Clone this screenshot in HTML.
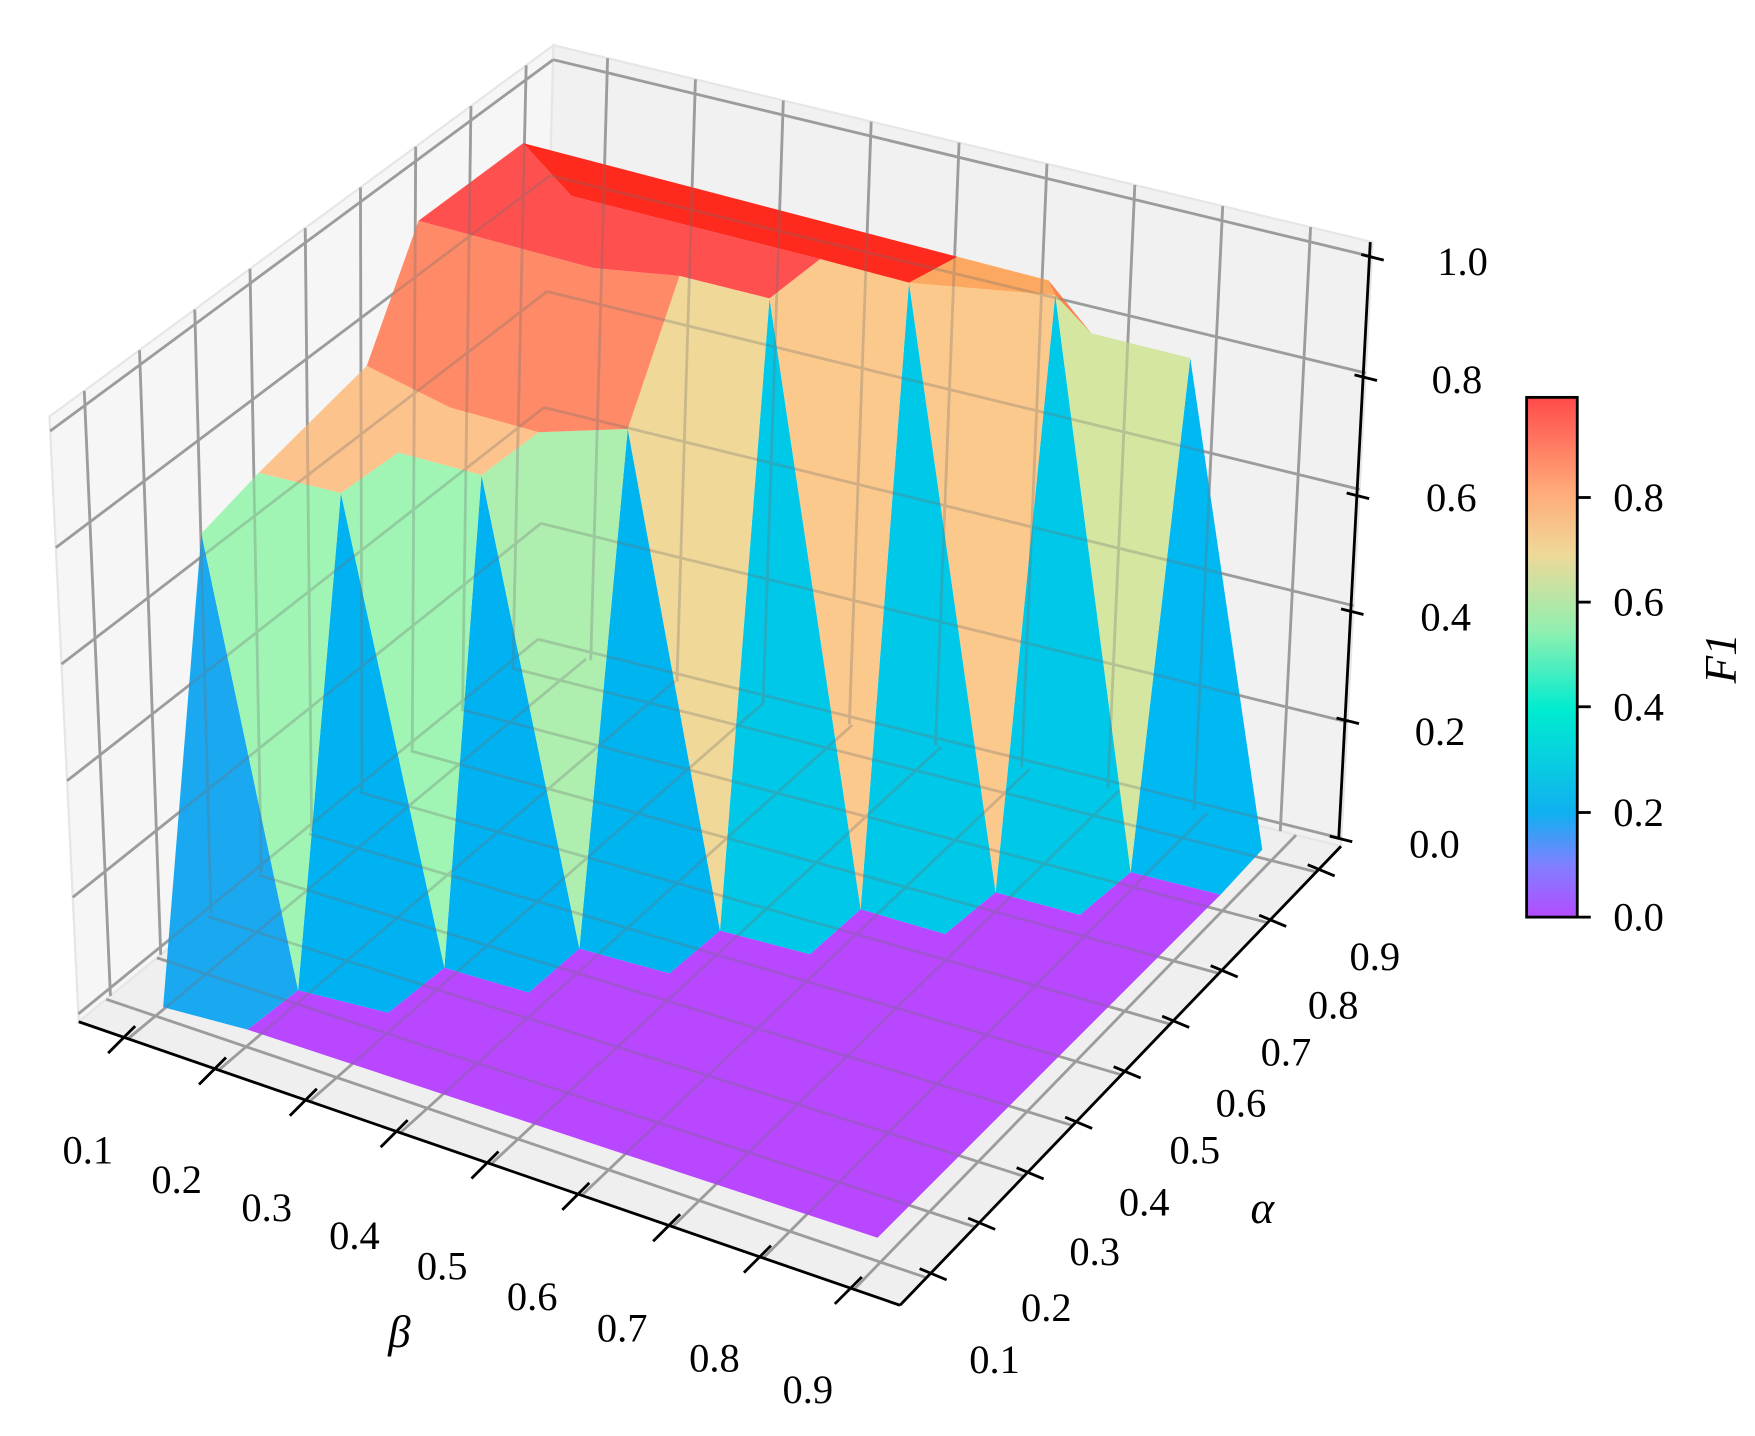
<!DOCTYPE html>
<html><head><meta charset="utf-8"><style>html,body{margin:0;padding:0;background:#fff}svg{display:block}text{font-family:"Liberation Serif","Times New Roman",serif}</style></head>
<body>
<svg id="s" width="1755" height="1436" viewBox="0 0 1560 1276" xmlns="http://www.w3.org/2000/svg">
<defs>
<linearGradient id="cb" x1="0" y1="1" x2="0" y2="0">
<stop offset="0" stop-color="#b44bff"/><stop offset="0.1" stop-color="#8080ff"/><stop offset="0.2" stop-color="#10b0f0"/><stop offset="0.4" stop-color="#00ecd0"/><stop offset="0.55" stop-color="#90f0b0"/><stop offset="0.7" stop-color="#f0d898"/><stop offset="0.82" stop-color="#ffaa78"/><stop offset="1" stop-color="#ff4a4a"/>
</linearGradient>
</defs>
<polygon points="44,370 492,40 478,575 70,908" fill="#f6f6f6" stroke="#e6e6e6" stroke-width="2"/>
<polygon points="492,40 1220,215 1192,752 478,575" fill="#f1f1f1" stroke="#e6e6e6" stroke-width="2"/>
<polygon points="70,908 800,1160 1192,752 478,575" fill="#efefef" stroke="#e6e6e6" stroke-width="2"/>
<g id="grid" stroke="#b0b0b0" stroke-width="2.5" fill="none"></g>
<g id="surf">
<polygon points="220,915 265,880 345,900 395,860 470,882 515,843 595,865 640,827 720,848 765,808 840,830 885,793 960,813 1005,775 1085,795 780,1100" fill="#b847ff"/>
<polygon points="179,474 145,895 220,915 265,880" fill="#1aa8f0"/>
<polygon points="303,438 265,880 345,900 395,860" fill="#00b2f2"/>
<polygon points="428,422 395,860 470,882 515,843" fill="#00b2f2"/>
<polygon points="558,381 515,843 595,865 640,827" fill="#00b4f0"/>
<polygon points="684,265 640,827 720,848 765,808" fill="#00c8e8"/>
<polygon points="808,251 765,808 840,830 885,793" fill="#00c8e8"/>
<polygon points="938,262 885,793 960,813 1005,775" fill="#00c8e8"/>
<polygon points="1058,318 1005,775 1085,795 1122,755" fill="#00b8f2"/>
<polygon points="179,474 230,420 303,438 265,880" fill="#a0f5b4"/>
<polygon points="303,438 354,402 428,422 395,860" fill="#a0f5b4"/>
<polygon points="428,422 479,384 558,381 515,843" fill="#aeefb0"/>
<polygon points="558,381 604,245 684,265 640,827" fill="#f0d898"/>
<polygon points="684,265 729,230 808,251 765,808" fill="#fcc98c"/>
<polygon points="808,251 851,228 932,249 938,262 885,793" fill="#fcc98c"/>
<polygon points="851,228 932,249 938,262 808,251" fill="#fca860"/>
<polygon points="932,249 970,296 1058,318 1005,775 938,262" fill="#d4e6a0"/>
<polygon points="932,249 938,262 970,296" fill="#ff8050"/>
<polygon points="230,420 326,325 400,362 479,384 428,422 354,402 303,438" fill="#fdc38c"/>
<polygon points="326,325 372,196 527,238 604,245 558,381 479,384 400,362" fill="#ff8a68"/>
<polygon points="372,196 465,127 508,174 729,230 684,265 604,245 527,238" fill="#ff5050"/>
<polygon points="465,127 851,228 808,251 729,230 508,174" fill="#ff2a1e"/>
</g>
<g id="grid2" stroke="#707070" stroke-width="2.5" fill="none" opacity="0.3"></g>
<g stroke="#000" stroke-width="2.5" fill="none">
<line x1="70" y1="908" x2="800" y2="1160"/>
<line x1="800" y1="1160" x2="1192" y2="752"/>
<line x1="1190" y1="745" x2="1218" y2="215"/>
</g>
<g id="ticks" stroke="#000" stroke-width="2.5"></g>
<g font-size="36" fill="#000" text-anchor="middle">
<text x="78" y="1034">0.1</text><text x="157" y="1060">0.2</text><text x="237" y="1085">0.3</text><text x="315" y="1110">0.4</text><text x="393" y="1137">0.5</text><text x="473" y="1164">0.6</text><text x="553" y="1192">0.7</text><text x="635" y="1219">0.8</text><text x="718" y="1247">0.9</text>
<text x="884" y="1220">0.1</text><text x="930" y="1174">0.2</text><text x="973" y="1124">0.3</text><text x="1017" y="1080">0.4</text><text x="1062" y="1034">0.5</text><text x="1103" y="992">0.6</text><text x="1143" y="947">0.7</text><text x="1185" y="905">0.8</text><text x="1222" y="862">0.9</text>
<text x="1300" y="244">1.0</text><text x="1295" y="349">0.8</text><text x="1290" y="454">0.6</text><text x="1285" y="560">0.4</text><text x="1280" y="662">0.2</text><text x="1275" y="762">0.0</text>
<text x="355" y="1197" font-style="italic" font-size="40">β</text>
<text x="1122" y="1087" font-style="italic" font-size="40">α</text>
</g>
<rect x="1357" y="353" width="45" height="462" fill="url(#cb)" stroke="#000" stroke-width="2.5"/>
<g stroke="#000" stroke-width="2.5">
<line x1="1402" y1="815" x2="1414" y2="815"/><line x1="1402" y1="722" x2="1414" y2="722"/><line x1="1402" y1="628" x2="1414" y2="628"/><line x1="1402" y1="535" x2="1414" y2="535"/><line x1="1402" y1="442" x2="1414" y2="442"/>
</g>
<g font-size="36" fill="#000">
<text x="1434" y="827">0.0</text><text x="1434" y="734">0.2</text><text x="1434" y="640">0.4</text><text x="1434" y="547">0.6</text><text x="1434" y="454">0.8</text>
<text transform="translate(1543,585) rotate(-90)" text-anchor="middle" font-style="italic" font-size="40">F1</text>
</g>
<script>
(function(){
var NS="http://www.w3.org/2000/svg";
function L(g,a,b){var l=document.createElementNS(NS,"line");l.setAttribute("x1",a[0]);l.setAttribute("y1",a[1]);l.setAttribute("x2",b[0]);l.setAttribute("y2",b[1]);g.appendChild(l);}
function lerp(a,b,t){return [a[0]+(b[0]-a[0])*t,a[1]+(b[1]-a[1])*t];}
var FL=[70,908],FR=[800,1160],R=[1192,752],B=[478,575],TL=[44,370],TB=[492,40],TR=[1220,215];
var gs=[document.getElementById("grid"),document.getElementById("grid2")];
gs.forEach(function(g){
for(var k=0;k<9;k++){var t=0.06+k*0.1105;
 L(g,lerp(FL,FR,t),lerp(B,R,t));
 L(g,lerp(FR,R,t),lerp(FL,B,t));
 L(g,lerp(TB,TR,0.066+k*0.1073),lerp(B,R,0.066+k*0.1073));
 L(g,lerp(TL,TB,0.069+k*0.1096),lerp(FL,B,0.069+k*0.1096));
}
for(var k=0;k<6;k++){var f=0.013+0.1926*k;
 var pb=lerp(B,TB,f);
 L(g,lerp(FL,TL,f),pb);L(g,pb,lerp(R,TR,f));
}});
var tk=document.getElementById("ticks");
for(var k=0;k<9;k++){var t=0.055+k*0.1106;var p=lerp(FL,FR,t);L(tk,[p[0]+10,p[1]-10],[p[0]-14,p[1]+14]);
 var q=lerp(FR,R,0.07+k*0.11);L(tk,[q[0]-10,q[1]-4],[q[0]+14,q[1]+6]);}
var zy=[745,640,543,440,335,228],zx=[1190,1196,1200,1205,1212,1218];
for(var k=0;k<6;k++)L(tk,[zx[k]-8,zy[k]-2],[zx[k]+12,zy[k]+3]);
})();
</script>
</svg>
</body></html>
